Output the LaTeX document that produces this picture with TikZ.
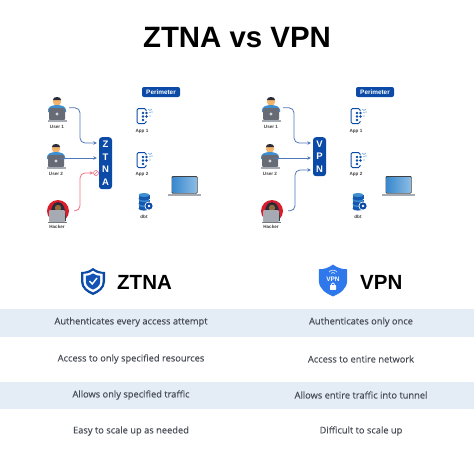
\documentclass[tikz,border=0pt]{standalone}
\usepackage{fontspec}
\usepackage{xcolor}
\usetikzlibrary{arrows.meta,positioning,calc,shapes.symbols}
\setmainfont{Liberation Sans}
\newfontfamily\rowfont[FakeBold=0.25]{Open Sans}
\definecolor{navy}{HTML}{0B4AA6}
\definecolor{linkblue}{HTML}{4F78B8}
\definecolor{linkred}{HTML}{F0707F}
\definecolor{bandblue}{HTML}{E4ECF6}
\definecolor{rowgray}{HTML}{474C55}
\definecolor{shirt}{HTML}{3E8FD2}
\definecolor{skin}{HTML}{F2B36B}
\definecolor{hair}{HTML}{2B2B38}
\definecolor{lapdark}{HTML}{666B75}
\definecolor{lapsilver}{HTML}{A6ABB3}
\definecolor{hackred}{HTML}{D81E2C}
\definecolor{vpnblue}{HTML}{2F78EC}
\newcommand{\shieldpath}{(0,-13.5) .. controls (4,-10.5) and (8,-9.5) .. (12,-9.5) -- (12,0) .. controls (12,7) and (6,11) .. (0,13.5) .. controls (-6,11) and (-12,7) .. (-12,0) -- (-12,-9.5) .. controls (-8,-9.5) and (-4,-10.5) .. cycle}
\tikzset{
  pics/usericon/.style={code={
    \fill[skin] (0,-11.5) circle (4.2);
    \fill[hair] (-4.2,-13) .. controls (-4,-17) and (4,-17) .. (4.2,-13) -- cycle;
    \fill[shirt] (-9,-1) -- (-9,-3) .. controls (-9,-6) and (-5,-8) .. (0,-8) .. controls (5,-8) and (9,-6) .. (9,-3) -- (9,-1) -- cycle;
    \node[lap,fill=lapdark] (-lap) at (0,1) {};
    \fill[white!85!black] (0,1) circle (1.6);
    \fill[lapsilver] (-9.5,7) rectangle (9.5,8.5);
  }},
  pics/hackericon/.style={code={
    \fill[hackred] (1,-2) circle (11);
    \fill[hair] (-7,8) .. controls (-7,-2) and (-5,-11) .. (1,-11) .. controls (7,-11) and (9,-2) .. (9,8) -- cycle;
    \fill[skin!60!black] (1,-5) circle (3.2);
    \node[lap,fill=lapsilver] (-lap) at (0,3) {};
    \fill[lapsilver!70!black] (-9.5,9) rectangle (9.5,10);
  }},
  pics/appicon/.style={code={
    \draw[navy,line width=1pt,rounded corners=1.5pt] (-5,-7.5) rectangle (4,7.5);
    \fill[white] (0,-5) rectangle (5,5);
    \foreach \a/\b in {1/-3,4.5/-3,1/0.5,4.5/0.5,1/4}
      \fill[navy] (\a,\b) circle (1.4);
    \foreach \a/\b in {8/-3.5,8/0,10/-4}
      \fill[shirt] (\a,\b) circle (0.7);
    \draw[shirt,line width=.6pt] (6.5,-7) -- (7.5,-5.5);
    \draw[shirt,line width=.6pt] (9.5,-7) -- (8.5,-5.5);
  }},
  pics/dbicon/.style={code={
    \foreach \b in {4,-1,-6}{
      \fill[navy!80!shirt] (-5.5,\b) rectangle (5.5,\b+3.6);
      \fill[navy!80!shirt] (0,\b+3.6) ellipse (5.5 and 2);
      \fill[shirt] (0,\b) ellipse (5.5 and 2);
    }
    \fill[white] (5,5) circle (4.5);
    \fill[navy] (5,5) circle (3.6);
    \fill[white] (5,5) circle (1.4);
  }},
  pics/laptopicon/.style={code={
    \fill[black!75,rounded corners=1pt] (-13,-10) rectangle (13,7.5);
    \shade[left color=shirt!90!navy,right color=shirt!60!white] (-12,-9) rectangle (12,6.5);
    \fill[lapsilver] (-16.5,7.5) rectangle (16.5,9.5);
  }},
  pics/ztnashield/.style={code={
    \fill[navy] \shieldpath;
    \fill[white,scale=.8] \shieldpath;
    \fill[navy!80!vpnblue,scale=.6] \shieldpath;
    \draw[white,line width=1.4pt] (-3.5,-0.5) -- (-0.8,2.5) -- (4,-3.5);
  }},
  pics/vpnshield/.style={code={
    \fill[vpnblue,scale=1.18] \shieldpath;
    \node[font=\bfseries\fontsize{6.5}{7}\selectfont,text=white,inner sep=0pt] (-txt) at (0,-1.5) {VPN};
    \draw[white!75!vpnblue,line width=.7pt] (-4,-8.5) .. controls (-2,-11) and (2,-11) .. (4,-8.5);
    \draw[white!75!vpnblue,line width=.7pt] (-2,-7) .. controls (-1,-8.5) and (1,-8.5) .. (2,-7);
    \draw[white,line width=.7pt] (-1.6,5) -- (-1.6,3.8) .. controls (-1.6,1.8) and (1.6,1.8) .. (1.6,3.8) -- (1.6,5);
    \fill[white,rounded corners=.5pt] (-3,4.6) rectangle (3,9.4);
  }},
}
\begin{document}
\begin{tikzpicture}[x=1pt,y=-1pt,>={Stealth[length=3.5pt,width=3.5pt]},
  lap/.style={rounded corners=1pt,minimum width=16pt,minimum height=12pt,inner sep=0pt},
  lab/.style={font=\bfseries\fontsize{4.6}{5}\selectfont,text=black!75,inner sep=0pt},
  perim/.style={fill=navy,rounded corners=2pt,text=white,minimum width=38pt,minimum height=10pt,inner sep=0pt,font=\bfseries\fontsize{6.4}{7}\selectfont},
  gate/.style={fill=navy,rounded corners=3pt,text=white,minimum width=13pt,inner sep=0pt,align=center,anchor=north,font=\bfseries\fontsize{9.5}{12.7}\selectfont},
  link/.style={->,linkblue,line width=0.8pt,rounded corners=5pt,shorten >=2pt},
  badlink/.style={->,linkred,line width=0.8pt,rounded corners=5pt},
  rowtxt/.style={font=\rowfont\fontsize{9.3}{10}\selectfont,text=rowgray,inner sep=0pt},
  head/.style={font=\bfseries\fontsize{20.5}{22}\selectfont,inner sep=0pt,anchor=west}]
  \useasboundingbox (0,0) rectangle (474,474);
  \fill[bandblue] (0,309) rectangle (474,337);
  \fill[bandblue] (0,382) rectangle (474,409);
  \node[font=\bfseries\fontsize{29.4}{31}\selectfont,inner sep=0pt] (title) at (237,38) {ZTNA vs VPN};
  % the two panels
  \foreach \x/\p/\h/\t in {0/l/52/{Z\\T\\N\\A},214/r/39/{V\\P\\N}}{
    \begin{scope}[xshift=\x]
      \node[perim] (\p per) at (161,92) {Perimeter};
      \node[gate,minimum height=\h] (\p box) at (105.5,137) {\t};
      \pic (\p u1) at (57,113) {usericon};
      \node[lab] (\p u1t) at (57,127) {User 1};
      \pic (\p u2) at (56,160) {usericon};
      \node[lab] (\p u2t) at (56,173.5) {User 2};
      \pic (\p u3) at (57,213) {hackericon};
      \node[lab] (\p u3t) at (57,227) {Hacker};
      \pic (\p a1) at (142,116) {appicon};
      \node[lab] (\p a1t) at (142,131) {App 1};
      \pic (\p a2) at (142,160) {appicon};
      \node[lab] (\p a2t) at (142,174) {App 2};
      \pic (\p db) at (144,201) {dbicon};
      \node[lab] (\p dbt) at (144,217) {dbt};
      \pic (\p pc) at (184.5,186) {laptopicon};
      \draw[link] ([xshift=4pt]\p u1-lap.north east) -| (80,143) -- (\p box.west |- 0,143);
      \draw[link,shorten <=-4pt] (\p u2-lap.east |- 0,158) -- (\p box.west |- 0,158);
    \end{scope}
  }
  % third connector differs
  \node[forbidden sign,draw=linkred,line width=.6pt,minimum size=5pt,inner sep=0pt] (lstop) at (96,173) {};
  \draw[badlink] ([xshift=9pt,yshift=-1pt]lu3-lap.north east) -| (80,173) -- (lstop.west);
  \draw[link] ([xshift=9pt,yshift=-1pt]ru3-lap.north east) -| (295,170) -- (rbox.west |- 0,170);
  % lower part
  \pic (zsh) at (93,281.5) {ztnashield};
  \node[head] (zhd) at (117,282) {ZTNA};
  \pic (vsh) at (333,280.5) {vpnshield};
  \node[head] (vhd) at (360,282) {VPN};
  \foreach \n/\y/\a/\b in {1/322/Authenticates every access attempt/Authenticates only once,
    2/359/Access to only specified resources/Access to entire network,
    3/395/Allows only specified traffic/Allows entire traffic into tunnel,
    4/431/Easy to scale up as needed/Difficult to scale up}{
    \node[rowtxt] (zr\n) at (131,\y) {\a};
    \node[rowtxt] (vr\n) at (361,\y) {\b};
  }
\end{tikzpicture}
\end{document}
